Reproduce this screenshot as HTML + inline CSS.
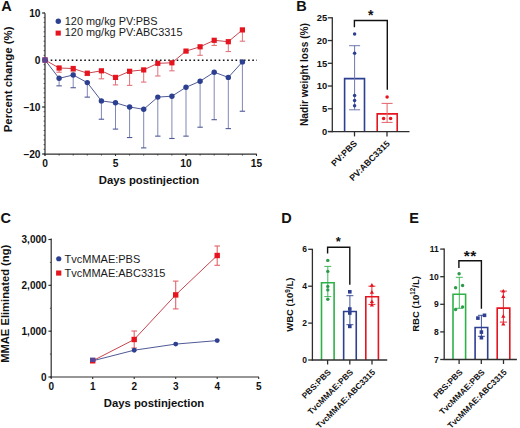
<!DOCTYPE html>
<html><head><meta charset="utf-8"><style>
html,body{margin:0;padding:0;background:#fff;width:520px;height:428px;overflow:hidden}
svg{display:block}
text{font-family:"Liberation Sans", sans-serif}
</style></head><body>
<svg width="520" height="428" viewBox="0 0 520 428">
<rect width="520" height="428" fill="#fff"/>
<text x="1.2" y="11.2" font-size="14.5" font-weight="bold" text-anchor="start" fill="#111">A</text>
<line x1="45" y1="13.3" x2="45" y2="154.6" stroke="#2e2e2e" stroke-width="1.2"/>
<line x1="44.4" y1="154.1" x2="256.8" y2="154.1" stroke="#2e2e2e" stroke-width="1.2"/>
<line x1="42" y1="13.0" x2="45" y2="13.0" stroke="#2e2e2e" stroke-width="1.1"/>
<line x1="42" y1="60.0" x2="45" y2="60.0" stroke="#2e2e2e" stroke-width="1.1"/>
<line x1="42" y1="107.0" x2="45" y2="107.0" stroke="#2e2e2e" stroke-width="1.1"/>
<line x1="42" y1="154.0" x2="45" y2="154.0" stroke="#2e2e2e" stroke-width="1.1"/>
<line x1="43.6" y1="154.0" x2="45" y2="154.0" stroke="#2e2e2e" stroke-width="0.8"/>
<line x1="43.6" y1="149.3" x2="45" y2="149.3" stroke="#2e2e2e" stroke-width="0.8"/>
<line x1="43.6" y1="144.60000000000002" x2="45" y2="144.60000000000002" stroke="#2e2e2e" stroke-width="0.8"/>
<line x1="43.6" y1="139.9" x2="45" y2="139.9" stroke="#2e2e2e" stroke-width="0.8"/>
<line x1="43.6" y1="135.2" x2="45" y2="135.2" stroke="#2e2e2e" stroke-width="0.8"/>
<line x1="43.6" y1="130.5" x2="45" y2="130.5" stroke="#2e2e2e" stroke-width="0.8"/>
<line x1="43.6" y1="125.8" x2="45" y2="125.8" stroke="#2e2e2e" stroke-width="0.8"/>
<line x1="43.6" y1="121.1" x2="45" y2="121.1" stroke="#2e2e2e" stroke-width="0.8"/>
<line x1="43.6" y1="116.4" x2="45" y2="116.4" stroke="#2e2e2e" stroke-width="0.8"/>
<line x1="43.6" y1="111.7" x2="45" y2="111.7" stroke="#2e2e2e" stroke-width="0.8"/>
<line x1="43.6" y1="107.0" x2="45" y2="107.0" stroke="#2e2e2e" stroke-width="0.8"/>
<line x1="43.6" y1="102.30000000000001" x2="45" y2="102.30000000000001" stroke="#2e2e2e" stroke-width="0.8"/>
<line x1="43.6" y1="97.6" x2="45" y2="97.6" stroke="#2e2e2e" stroke-width="0.8"/>
<line x1="43.6" y1="92.9" x2="45" y2="92.9" stroke="#2e2e2e" stroke-width="0.8"/>
<line x1="43.6" y1="88.2" x2="45" y2="88.2" stroke="#2e2e2e" stroke-width="0.8"/>
<line x1="43.6" y1="83.5" x2="45" y2="83.5" stroke="#2e2e2e" stroke-width="0.8"/>
<line x1="43.6" y1="78.8" x2="45" y2="78.8" stroke="#2e2e2e" stroke-width="0.8"/>
<line x1="43.6" y1="74.1" x2="45" y2="74.1" stroke="#2e2e2e" stroke-width="0.8"/>
<line x1="43.6" y1="69.4" x2="45" y2="69.4" stroke="#2e2e2e" stroke-width="0.8"/>
<line x1="43.6" y1="64.7" x2="45" y2="64.7" stroke="#2e2e2e" stroke-width="0.8"/>
<line x1="43.6" y1="60.0" x2="45" y2="60.0" stroke="#2e2e2e" stroke-width="0.8"/>
<line x1="43.6" y1="55.3" x2="45" y2="55.3" stroke="#2e2e2e" stroke-width="0.8"/>
<line x1="43.6" y1="50.6" x2="45" y2="50.6" stroke="#2e2e2e" stroke-width="0.8"/>
<line x1="43.6" y1="45.9" x2="45" y2="45.9" stroke="#2e2e2e" stroke-width="0.8"/>
<line x1="43.6" y1="41.2" x2="45" y2="41.2" stroke="#2e2e2e" stroke-width="0.8"/>
<line x1="43.6" y1="36.5" x2="45" y2="36.5" stroke="#2e2e2e" stroke-width="0.8"/>
<line x1="43.6" y1="31.799999999999997" x2="45" y2="31.799999999999997" stroke="#2e2e2e" stroke-width="0.8"/>
<line x1="43.6" y1="27.1" x2="45" y2="27.1" stroke="#2e2e2e" stroke-width="0.8"/>
<line x1="43.6" y1="22.4" x2="45" y2="22.4" stroke="#2e2e2e" stroke-width="0.8"/>
<line x1="43.6" y1="17.699999999999996" x2="45" y2="17.699999999999996" stroke="#2e2e2e" stroke-width="0.8"/>
<line x1="43.6" y1="13.0" x2="45" y2="13.0" stroke="#2e2e2e" stroke-width="0.8"/>
<line x1="45.0" y1="154" x2="45.0" y2="155.6" stroke="#2e2e2e" stroke-width="0.8"/>
<line x1="59.1" y1="154" x2="59.1" y2="155.6" stroke="#2e2e2e" stroke-width="0.8"/>
<line x1="73.2" y1="154" x2="73.2" y2="155.6" stroke="#2e2e2e" stroke-width="0.8"/>
<line x1="87.3" y1="154" x2="87.3" y2="155.6" stroke="#2e2e2e" stroke-width="0.8"/>
<line x1="101.4" y1="154" x2="101.4" y2="155.6" stroke="#2e2e2e" stroke-width="0.8"/>
<line x1="115.5" y1="154" x2="115.5" y2="155.6" stroke="#2e2e2e" stroke-width="0.8"/>
<line x1="129.6" y1="154" x2="129.6" y2="155.6" stroke="#2e2e2e" stroke-width="0.8"/>
<line x1="143.7" y1="154" x2="143.7" y2="155.6" stroke="#2e2e2e" stroke-width="0.8"/>
<line x1="157.8" y1="154" x2="157.8" y2="155.6" stroke="#2e2e2e" stroke-width="0.8"/>
<line x1="171.89999999999998" y1="154" x2="171.89999999999998" y2="155.6" stroke="#2e2e2e" stroke-width="0.8"/>
<line x1="186.0" y1="154" x2="186.0" y2="155.6" stroke="#2e2e2e" stroke-width="0.8"/>
<line x1="200.1" y1="154" x2="200.1" y2="155.6" stroke="#2e2e2e" stroke-width="0.8"/>
<line x1="214.2" y1="154" x2="214.2" y2="155.6" stroke="#2e2e2e" stroke-width="0.8"/>
<line x1="228.29999999999998" y1="154" x2="228.29999999999998" y2="155.6" stroke="#2e2e2e" stroke-width="0.8"/>
<line x1="242.4" y1="154" x2="242.4" y2="155.6" stroke="#2e2e2e" stroke-width="0.8"/>
<line x1="256.5" y1="154" x2="256.5" y2="155.6" stroke="#2e2e2e" stroke-width="0.8"/>
<line x1="45.0" y1="154" x2="45.0" y2="156" stroke="#2e2e2e" stroke-width="1.1"/>
<line x1="115.5" y1="154" x2="115.5" y2="156" stroke="#2e2e2e" stroke-width="1.1"/>
<line x1="186.0" y1="154" x2="186.0" y2="156" stroke="#2e2e2e" stroke-width="1.1"/>
<line x1="256.5" y1="154" x2="256.5" y2="156" stroke="#2e2e2e" stroke-width="1.1"/>
<text x="40.5" y="17.2" font-size="10.2" font-weight="bold" text-anchor="end" fill="#111">10</text>
<text x="40.5" y="64.2" font-size="10.2" font-weight="bold" text-anchor="end" fill="#111">0</text>
<text x="40.5" y="111.2" font-size="10.2" font-weight="bold" text-anchor="end" fill="#111">–10</text>
<text x="40.5" y="158.2" font-size="10.2" font-weight="bold" text-anchor="end" fill="#111">–20</text>
<text x="45.0" y="166.9" font-size="10.2" font-weight="bold" text-anchor="middle" fill="#111">0</text>
<text x="115.5" y="166.9" font-size="10.2" font-weight="bold" text-anchor="middle" fill="#111">5</text>
<text x="186.0" y="166.9" font-size="10.2" font-weight="bold" text-anchor="middle" fill="#111">10</text>
<text x="256.5" y="166.9" font-size="10.2" font-weight="bold" text-anchor="middle" fill="#111">15</text>
<text x="149" y="184.4" font-size="11.3" font-weight="bold" text-anchor="middle" fill="#111">Days postinjection</text>
<text x="11.6" y="79.4" font-size="11.4" font-weight="bold" text-anchor="middle" fill="#111" transform="rotate(-90 11.6 79.4)">Percent change (%)</text>
<line x1="46.5" y1="60.3" x2="257" y2="60.3" stroke="#111" stroke-width="1.5" stroke-dasharray="1.6 2.6"/>
<circle cx="58.3" cy="21.3" r="2.7" fill="#2d3f91"/>
<text x="64.8" y="24.6" font-size="10.9" font-weight="normal" text-anchor="start" fill="#1a1a1a">120 mg/kg PV:PBS</text>
<rect x="55.6" y="30.6" width="5.2" height="5" fill="#e5141f"/>
<text x="64.8" y="36.4" font-size="10.9" font-weight="normal" text-anchor="start" fill="#1a1a1a">120 mg/kg PV:ABC3315</text>
<line x1="59.1" y1="78.33" x2="59.1" y2="85.85" stroke="#8088b4" stroke-width="1.0"/>
<line x1="56.4" y1="85.85" x2="61.800000000000004" y2="85.85" stroke="#4f5a96" stroke-width="1.1"/>
<line x1="59.1" y1="67.99" x2="59.1" y2="72.22" stroke="#e0757c" stroke-width="1.0"/>
<line x1="56.4" y1="72.22" x2="61.800000000000004" y2="72.22" stroke="#e0757c" stroke-width="1.1"/>
<line x1="73.2" y1="75.04" x2="73.2" y2="87.73" stroke="#8088b4" stroke-width="1.0"/>
<line x1="70.5" y1="87.73" x2="75.9" y2="87.73" stroke="#4f5a96" stroke-width="1.1"/>
<line x1="73.2" y1="68.46000000000001" x2="73.2" y2="71.75" stroke="#e0757c" stroke-width="1.0"/>
<line x1="70.5" y1="71.75" x2="75.9" y2="71.75" stroke="#e0757c" stroke-width="1.1"/>
<line x1="87.3" y1="82.56" x2="87.3" y2="97.13" stroke="#8088b4" stroke-width="1.0"/>
<line x1="84.6" y1="97.13" x2="90.0" y2="97.13" stroke="#4f5a96" stroke-width="1.1"/>
<line x1="87.3" y1="73.16" x2="87.3" y2="75.51" stroke="#e0757c" stroke-width="1.0"/>
<line x1="84.6" y1="75.51" x2="90.0" y2="75.51" stroke="#e0757c" stroke-width="1.1"/>
<line x1="101.4" y1="100.89" x2="101.4" y2="119.22" stroke="#8088b4" stroke-width="1.0"/>
<line x1="98.7" y1="119.22" x2="104.10000000000001" y2="119.22" stroke="#4f5a96" stroke-width="1.1"/>
<line x1="101.4" y1="70.81" x2="101.4" y2="78.8" stroke="#e0757c" stroke-width="1.0"/>
<line x1="98.7" y1="78.8" x2="104.10000000000001" y2="78.8" stroke="#e0757c" stroke-width="1.1"/>
<line x1="115.5" y1="102.77000000000001" x2="115.5" y2="129.09" stroke="#8088b4" stroke-width="1.0"/>
<line x1="112.8" y1="129.09" x2="118.2" y2="129.09" stroke="#4f5a96" stroke-width="1.1"/>
<line x1="115.5" y1="77.39" x2="115.5" y2="84.91" stroke="#e0757c" stroke-width="1.0"/>
<line x1="112.8" y1="84.91" x2="118.2" y2="84.91" stroke="#e0757c" stroke-width="1.1"/>
<line x1="129.6" y1="107.0" x2="129.6" y2="137.55" stroke="#8088b4" stroke-width="1.0"/>
<line x1="126.89999999999999" y1="137.55" x2="132.29999999999998" y2="137.55" stroke="#4f5a96" stroke-width="1.1"/>
<line x1="129.6" y1="71.28" x2="129.6" y2="85.38" stroke="#e0757c" stroke-width="1.0"/>
<line x1="126.89999999999999" y1="85.38" x2="132.29999999999998" y2="85.38" stroke="#e0757c" stroke-width="1.1"/>
<line x1="143.7" y1="109.35" x2="143.7" y2="147.89" stroke="#8088b4" stroke-width="1.0"/>
<line x1="141.0" y1="147.89" x2="146.39999999999998" y2="147.89" stroke="#4f5a96" stroke-width="1.1"/>
<line x1="143.7" y1="69.87" x2="143.7" y2="82.09" stroke="#e0757c" stroke-width="1.0"/>
<line x1="141.0" y1="82.09" x2="146.39999999999998" y2="82.09" stroke="#e0757c" stroke-width="1.1"/>
<line x1="157.8" y1="97.13" x2="157.8" y2="136.14" stroke="#8088b4" stroke-width="1.0"/>
<line x1="155.10000000000002" y1="136.14" x2="160.5" y2="136.14" stroke="#4f5a96" stroke-width="1.1"/>
<line x1="157.8" y1="63.29" x2="157.8" y2="75.98" stroke="#e0757c" stroke-width="1.0"/>
<line x1="155.10000000000002" y1="75.98" x2="160.5" y2="75.98" stroke="#e0757c" stroke-width="1.1"/>
<line x1="171.89999999999998" y1="96.19" x2="171.89999999999998" y2="138.49" stroke="#8088b4" stroke-width="1.0"/>
<line x1="169.2" y1="138.49" x2="174.59999999999997" y2="138.49" stroke="#4f5a96" stroke-width="1.1"/>
<line x1="171.89999999999998" y1="62.82" x2="171.89999999999998" y2="70.81" stroke="#e0757c" stroke-width="1.0"/>
<line x1="169.2" y1="70.81" x2="174.59999999999997" y2="70.81" stroke="#e0757c" stroke-width="1.1"/>
<line x1="186.0" y1="87.26" x2="186.0" y2="136.14" stroke="#8088b4" stroke-width="1.0"/>
<line x1="183.3" y1="136.14" x2="188.7" y2="136.14" stroke="#4f5a96" stroke-width="1.1"/>
<line x1="186.0" y1="51.07" x2="186.0" y2="52.01" stroke="#e0757c" stroke-width="1.0"/>
<line x1="183.3" y1="52.01" x2="188.7" y2="52.01" stroke="#e0757c" stroke-width="1.1"/>
<line x1="200.1" y1="81.15" x2="200.1" y2="127.21000000000001" stroke="#8088b4" stroke-width="1.0"/>
<line x1="197.4" y1="127.21000000000001" x2="202.79999999999998" y2="127.21000000000001" stroke="#4f5a96" stroke-width="1.1"/>
<line x1="200.1" y1="46.84" x2="200.1" y2="55.3" stroke="#e0757c" stroke-width="1.0"/>
<line x1="197.4" y1="55.3" x2="202.79999999999998" y2="55.3" stroke="#e0757c" stroke-width="1.1"/>
<line x1="214.2" y1="72.22" x2="214.2" y2="119.69" stroke="#8088b4" stroke-width="1.0"/>
<line x1="211.5" y1="119.69" x2="216.89999999999998" y2="119.69" stroke="#4f5a96" stroke-width="1.1"/>
<line x1="214.2" y1="40.26" x2="214.2" y2="45.43" stroke="#e0757c" stroke-width="1.0"/>
<line x1="211.5" y1="45.43" x2="216.89999999999998" y2="45.43" stroke="#e0757c" stroke-width="1.1"/>
<line x1="228.29999999999998" y1="77.39" x2="228.29999999999998" y2="128.62" stroke="#8088b4" stroke-width="1.0"/>
<line x1="225.6" y1="128.62" x2="230.99999999999997" y2="128.62" stroke="#4f5a96" stroke-width="1.1"/>
<line x1="228.29999999999998" y1="41.67" x2="228.29999999999998" y2="51.54" stroke="#e0757c" stroke-width="1.0"/>
<line x1="225.6" y1="51.54" x2="230.99999999999997" y2="51.54" stroke="#e0757c" stroke-width="1.1"/>
<line x1="242.4" y1="61.88" x2="242.4" y2="111.23" stroke="#8088b4" stroke-width="1.0"/>
<line x1="239.70000000000002" y1="111.23" x2="245.1" y2="111.23" stroke="#4f5a96" stroke-width="1.1"/>
<line x1="242.4" y1="29.919999999999998" x2="242.4" y2="41.2" stroke="#e0757c" stroke-width="1.0"/>
<line x1="239.70000000000002" y1="41.2" x2="245.1" y2="41.2" stroke="#e0757c" stroke-width="1.1"/>
<polyline points="45.0,60.0 59.1,78.3 73.2,75.0 87.3,82.6 101.4,100.9 115.5,102.8 129.6,107.0 143.7,109.3 157.8,97.1 171.9,96.2 186.0,87.3 200.1,81.2 214.2,72.2 228.3,77.4 242.4,61.9" fill="none" stroke="#4f5a96" stroke-width="1.0"/>
<polyline points="45.0,60.0 59.1,68.0 73.2,68.5 87.3,73.2 101.4,70.8 115.5,77.4 129.6,71.3 143.7,69.9 157.8,63.3 171.9,62.8 186.0,51.1 200.1,46.8 214.2,40.3 228.3,41.7 242.4,29.9" fill="none" stroke="#c8454f" stroke-width="1.0"/>
<rect x="42.4" y="57.4" width="5.2" height="5.2" fill="#e5141f"/>
<rect x="56.5" y="65.4" width="5.2" height="5.2" fill="#e5141f"/>
<rect x="70.6" y="65.9" width="5.2" height="5.2" fill="#e5141f"/>
<rect x="84.7" y="70.6" width="5.2" height="5.2" fill="#e5141f"/>
<rect x="98.8" y="68.2" width="5.2" height="5.2" fill="#e5141f"/>
<rect x="112.9" y="74.8" width="5.2" height="5.2" fill="#e5141f"/>
<rect x="127.0" y="68.7" width="5.2" height="5.2" fill="#e5141f"/>
<rect x="141.1" y="67.3" width="5.2" height="5.2" fill="#e5141f"/>
<rect x="155.2" y="60.7" width="5.2" height="5.2" fill="#e5141f"/>
<rect x="169.3" y="60.2" width="5.2" height="5.2" fill="#e5141f"/>
<rect x="183.4" y="48.5" width="5.2" height="5.2" fill="#e5141f"/>
<rect x="197.5" y="44.2" width="5.2" height="5.2" fill="#e5141f"/>
<rect x="211.6" y="37.7" width="5.2" height="5.2" fill="#e5141f"/>
<rect x="225.7" y="39.1" width="5.2" height="5.2" fill="#e5141f"/>
<rect x="239.8" y="27.3" width="5.2" height="5.2" fill="#e5141f"/>
<rect x="42.4" y="57.4" width="5.2" height="5.2" fill="#54479a"/>
<circle cx="59.1" cy="78.3" r="2.7" fill="#2d3f91"/>
<circle cx="73.2" cy="75.0" r="2.7" fill="#2d3f91"/>
<circle cx="87.3" cy="82.6" r="2.7" fill="#2d3f91"/>
<circle cx="101.4" cy="100.9" r="2.7" fill="#2d3f91"/>
<circle cx="115.5" cy="102.8" r="2.7" fill="#2d3f91"/>
<circle cx="129.6" cy="107.0" r="2.7" fill="#2d3f91"/>
<circle cx="143.7" cy="109.3" r="2.7" fill="#2d3f91"/>
<circle cx="157.8" cy="97.1" r="2.7" fill="#2d3f91"/>
<circle cx="171.9" cy="96.2" r="2.7" fill="#2d3f91"/>
<circle cx="186.0" cy="87.3" r="2.7" fill="#2d3f91"/>
<circle cx="200.1" cy="81.2" r="2.7" fill="#2d3f91"/>
<circle cx="214.2" cy="72.2" r="2.7" fill="#2d3f91"/>
<circle cx="228.3" cy="77.4" r="2.7" fill="#2d3f91"/>
<circle cx="242.4" cy="61.9" r="2.7" fill="#2d3f91"/>
<text x="296.2" y="11.2" font-size="14.5" font-weight="bold" text-anchor="start" fill="#111">B</text>
<line x1="332.3" y1="17.3" x2="332.3" y2="132.2" stroke="#2e2e2e" stroke-width="1.3"/>
<line x1="327.8" y1="131.5" x2="332.3" y2="131.5" stroke="#2e2e2e" stroke-width="1.3"/>
<text x="327.2" y="134.9" font-size="9.4" font-weight="bold" text-anchor="end" fill="#111">0</text>
<line x1="327.8" y1="108.76" x2="332.3" y2="108.76" stroke="#2e2e2e" stroke-width="1.3"/>
<text x="327.2" y="112.16000000000001" font-size="9.4" font-weight="bold" text-anchor="end" fill="#111">5</text>
<line x1="327.8" y1="86.02000000000001" x2="332.3" y2="86.02000000000001" stroke="#2e2e2e" stroke-width="1.3"/>
<text x="327.2" y="89.42000000000002" font-size="9.4" font-weight="bold" text-anchor="end" fill="#111">10</text>
<line x1="327.8" y1="63.28" x2="332.3" y2="63.28" stroke="#2e2e2e" stroke-width="1.3"/>
<text x="327.2" y="66.68" font-size="9.4" font-weight="bold" text-anchor="end" fill="#111">15</text>
<line x1="327.8" y1="40.540000000000006" x2="332.3" y2="40.540000000000006" stroke="#2e2e2e" stroke-width="1.3"/>
<text x="327.2" y="43.940000000000005" font-size="9.4" font-weight="bold" text-anchor="end" fill="#111">20</text>
<line x1="327.8" y1="17.799999999999997" x2="332.3" y2="17.799999999999997" stroke="#2e2e2e" stroke-width="1.3"/>
<text x="327.2" y="21.199999999999996" font-size="9.4" font-weight="bold" text-anchor="end" fill="#111">25</text>
<line x1="354.5" y1="131.6" x2="354.5" y2="136.4" stroke="#2e2e2e" stroke-width="1.3"/>
<line x1="387" y1="131.6" x2="387" y2="136.4" stroke="#2e2e2e" stroke-width="1.3"/>
<text x="304.8" y="74.5" font-size="10.2" font-weight="bold" text-anchor="middle" fill="#111" transform="rotate(-90 304.8 74.5)" dominant-baseline="central">Nadir weight loss (%)</text>
<path d="M344.6,131.6 V78.6 H364.5 V131.6" fill="none" stroke="#2d3f91" stroke-width="1.6"/>
<path d="M377.2,131.6 V113.9 H397.2 V131.6" fill="none" stroke="#e5141f" stroke-width="1.6"/>
<line x1="328.3" y1="131.6" x2="409.5" y2="131.6" stroke="#2e2e2e" stroke-width="1.3"/>
<line x1="354.6" y1="45.7" x2="354.6" y2="109.8" stroke="#6f78b0" stroke-width="1.0"/>
<line x1="349.1" y1="45.7" x2="360.1" y2="45.7" stroke="#6f78b0" stroke-width="1.0"/>
<line x1="349.1" y1="109.8" x2="360.1" y2="109.8" stroke="#6f78b0" stroke-width="1.0"/>
<line x1="387.1" y1="103.4" x2="387.1" y2="122.4" stroke="#e2636a" stroke-width="1.0"/>
<line x1="381.6" y1="103.4" x2="392.6" y2="103.4" stroke="#e2636a" stroke-width="1.0"/>
<line x1="381.6" y1="122.4" x2="392.6" y2="122.4" stroke="#e2636a" stroke-width="1.0"/>
<circle cx="354.6" cy="33.9" r="1.75" fill="#2d3f91"/>
<circle cx="354.6" cy="53.3" r="1.75" fill="#2d3f91"/>
<circle cx="354.6" cy="95.5" r="1.75" fill="#2d3f91"/>
<circle cx="354.6" cy="100.4" r="1.75" fill="#2d3f91"/>
<circle cx="354.6" cy="105.7" r="1.75" fill="#2d3f91"/>
<circle cx="387.1" cy="96.9" r="1.75" fill="#e5141f"/>
<circle cx="383.6" cy="118.6" r="1.75" fill="#e5141f"/>
<circle cx="390.6" cy="118.6" r="1.75" fill="#e5141f"/>
<path d="M354.4,27.3 V20.5 H387.3 V89.8" fill="none" stroke="#111" stroke-width="1.4"/>
<text x="370.7" y="19.6" font-size="14" font-weight="bold" text-anchor="middle" fill="#111">*</text>
<text x="357.6" y="144.2" font-size="8.8" font-weight="bold" text-anchor="end" fill="#111" transform="rotate(-45 357.6 144.2)">PV:PBS</text>
<text x="390.4" y="144.2" font-size="8.8" font-weight="bold" text-anchor="end" fill="#111" transform="rotate(-45 390.4 144.2)">PV:ABC3315</text>
<text x="0.5" y="222.7" font-size="14.5" font-weight="bold" text-anchor="start" fill="#111">C</text>
<line x1="51.2" y1="238.6" x2="51.2" y2="377.6" stroke="#2e2e2e" stroke-width="1.2"/>
<line x1="50.6" y1="377" x2="259" y2="377" stroke="#2e2e2e" stroke-width="1.2"/>
<line x1="48.4" y1="377.0" x2="51.2" y2="377.0" stroke="#2e2e2e" stroke-width="1.1"/>
<text x="46.6" y="381.0" font-size="10" font-weight="bold" text-anchor="end" fill="#111">0</text>
<line x1="48.4" y1="331.17" x2="51.2" y2="331.17" stroke="#2e2e2e" stroke-width="1.1"/>
<text x="46.6" y="334.77000000000004" font-size="10" font-weight="bold" text-anchor="end" fill="#111">1,000</text>
<line x1="48.4" y1="285.34000000000003" x2="51.2" y2="285.34000000000003" stroke="#2e2e2e" stroke-width="1.1"/>
<text x="46.6" y="288.74" font-size="10" font-weight="bold" text-anchor="end" fill="#111">2,000</text>
<line x1="48.4" y1="239.51000000000002" x2="51.2" y2="239.51000000000002" stroke="#2e2e2e" stroke-width="1.1"/>
<text x="46.6" y="242.61" font-size="10" font-weight="bold" text-anchor="end" fill="#111">3,000</text>
<line x1="49.9" y1="377.0" x2="51.2" y2="377.0" stroke="#2e2e2e" stroke-width="0.8"/>
<line x1="49.9" y1="354.085" x2="51.2" y2="354.085" stroke="#2e2e2e" stroke-width="0.8"/>
<line x1="49.9" y1="331.17" x2="51.2" y2="331.17" stroke="#2e2e2e" stroke-width="0.8"/>
<line x1="49.9" y1="308.255" x2="51.2" y2="308.255" stroke="#2e2e2e" stroke-width="0.8"/>
<line x1="49.9" y1="285.34000000000003" x2="51.2" y2="285.34000000000003" stroke="#2e2e2e" stroke-width="0.8"/>
<line x1="49.9" y1="262.425" x2="51.2" y2="262.425" stroke="#2e2e2e" stroke-width="0.8"/>
<line x1="49.9" y1="239.51000000000002" x2="51.2" y2="239.51000000000002" stroke="#2e2e2e" stroke-width="0.8"/>
<line x1="51.2" y1="377" x2="51.2" y2="379" stroke="#2e2e2e" stroke-width="1.1"/>
<text x="51.2" y="390.1" font-size="10" font-weight="bold" text-anchor="middle" fill="#111">0</text>
<line x1="92.7" y1="377" x2="92.7" y2="379" stroke="#2e2e2e" stroke-width="1.1"/>
<text x="92.7" y="390.1" font-size="10" font-weight="bold" text-anchor="middle" fill="#111">1</text>
<line x1="134.2" y1="377" x2="134.2" y2="379" stroke="#2e2e2e" stroke-width="1.1"/>
<text x="134.2" y="390.1" font-size="10" font-weight="bold" text-anchor="middle" fill="#111">2</text>
<line x1="175.7" y1="377" x2="175.7" y2="379" stroke="#2e2e2e" stroke-width="1.1"/>
<text x="175.7" y="390.1" font-size="10" font-weight="bold" text-anchor="middle" fill="#111">3</text>
<line x1="217.2" y1="377" x2="217.2" y2="379" stroke="#2e2e2e" stroke-width="1.1"/>
<text x="217.2" y="390.1" font-size="10" font-weight="bold" text-anchor="middle" fill="#111">4</text>
<line x1="258.7" y1="377" x2="258.7" y2="379" stroke="#2e2e2e" stroke-width="1.1"/>
<text x="258.7" y="390.1" font-size="10" font-weight="bold" text-anchor="middle" fill="#111">5</text>
<text x="154" y="407" font-size="11.3" font-weight="bold" text-anchor="middle" fill="#111">Days postinjection</text>
<text x="9.2" y="303.8" font-size="11.2" font-weight="bold" text-anchor="middle" fill="#111" transform="rotate(-90 9.2 303.8)">MMAE Eliminated (ng)</text>
<circle cx="58.75" cy="258.75" r="2.6" fill="#2d3f91"/>
<text x="64.5" y="262.6" font-size="11" font-weight="normal" text-anchor="start" fill="#1a1a1a">TvcMMAE:PBS</text>
<rect x="56.1" y="270.5" width="5.2" height="5.1" fill="#e5141f"/>
<text x="64.5" y="277.3" font-size="11" font-weight="normal" text-anchor="start" fill="#1a1a1a">TvcMMAE:ABC3315</text>
<line x1="134.2" y1="331" x2="134.2" y2="348" stroke="#e2636a" stroke-width="1.1"/>
<line x1="131.39999999999998" y1="331" x2="137.0" y2="331" stroke="#e2636a" stroke-width="1.1"/>
<line x1="131.39999999999998" y1="348" x2="137.0" y2="348" stroke="#e2636a" stroke-width="1.1"/>
<line x1="175.7" y1="281.1" x2="175.7" y2="308.9" stroke="#e2636a" stroke-width="1.1"/>
<line x1="172.89999999999998" y1="281.1" x2="178.5" y2="281.1" stroke="#e2636a" stroke-width="1.1"/>
<line x1="172.89999999999998" y1="308.9" x2="178.5" y2="308.9" stroke="#e2636a" stroke-width="1.1"/>
<line x1="217.2" y1="246" x2="217.2" y2="265.3" stroke="#e2636a" stroke-width="1.1"/>
<line x1="214.39999999999998" y1="246" x2="220.0" y2="246" stroke="#e2636a" stroke-width="1.1"/>
<line x1="214.39999999999998" y1="265.3" x2="220.0" y2="265.3" stroke="#e2636a" stroke-width="1.1"/>
<polyline points="92.7,360.8 134.2,339.5 175.7,294.9 217.2,255.5" fill="none" stroke="#c8454f" stroke-width="1.0"/>
<polyline points="92.7,360.8 134.2,350.2 175.7,344.1 217.2,340.6" fill="none" stroke="#4f5a96" stroke-width="1.0"/>
<rect x="90.0" y="358.1" width="5.4" height="5.4" fill="#e5141f"/>
<rect x="131.5" y="336.8" width="5.4" height="5.4" fill="#e5141f"/>
<rect x="173.0" y="292.2" width="5.4" height="5.4" fill="#e5141f"/>
<rect x="214.5" y="252.8" width="5.4" height="5.4" fill="#e5141f"/>
<rect x="90.0" y="357.6" width="5.4" height="4.4" fill="#54479a"/>
<circle cx="134.2" cy="350.2" r="2.45" fill="#2d3f91"/>
<circle cx="175.7" cy="344.1" r="2.45" fill="#2d3f91"/>
<circle cx="217.2" cy="340.6" r="2.45" fill="#2d3f91"/>
<text x="281.3" y="222.6" font-size="14.5" font-weight="bold" text-anchor="start" fill="#111">D</text>
<line x1="312.4" y1="248.8" x2="312.4" y2="360.6" stroke="#2e2e2e" stroke-width="1.3"/>
<line x1="308.2" y1="360.0" x2="312.4" y2="360.0" stroke="#2e2e2e" stroke-width="1.3"/>
<text x="307" y="363.1" font-size="8.5" font-weight="bold" text-anchor="end" fill="#111">0</text>
<line x1="308.2" y1="323.1" x2="312.4" y2="323.1" stroke="#2e2e2e" stroke-width="1.3"/>
<text x="307" y="326.20000000000005" font-size="8.5" font-weight="bold" text-anchor="end" fill="#111">2</text>
<line x1="308.2" y1="286.2" x2="312.4" y2="286.2" stroke="#2e2e2e" stroke-width="1.3"/>
<text x="307" y="289.3" font-size="8.5" font-weight="bold" text-anchor="end" fill="#111">4</text>
<line x1="308.2" y1="249.3" x2="312.4" y2="249.3" stroke="#2e2e2e" stroke-width="1.3"/>
<text x="307" y="252.4" font-size="8.5" font-weight="bold" text-anchor="end" fill="#111">6</text>
<line x1="327.6" y1="360" x2="327.6" y2="364.5" stroke="#2e2e2e" stroke-width="1.3"/>
<line x1="349.8" y1="360" x2="349.8" y2="364.5" stroke="#2e2e2e" stroke-width="1.3"/>
<line x1="372" y1="360" x2="372" y2="364.5" stroke="#2e2e2e" stroke-width="1.3"/>
<text x="293.3" y="304.6" font-size="9.5" font-weight="bold" text-anchor="middle" fill="#111" transform="rotate(-90 293.3 304.6)" font-weight="bold">WBC (10<tspan font-size="6.4" dy="-3.6">9</tspan><tspan dy="3.6">/L)</tspan></text>
<path d="M321.50,360 V282.7 H334.10 V360" fill="none" stroke="#2fb14a" stroke-width="1.6"/>
<path d="M343.65,360 V311.5 H356.25 V360" fill="none" stroke="#2d3f91" stroke-width="1.6"/>
<path d="M365.80,360 V296.8 H378.40 V360" fill="none" stroke="#e5141f" stroke-width="1.6"/>
<line x1="311.8" y1="360" x2="387.2" y2="360" stroke="#2e2e2e" stroke-width="1.3"/>
<line x1="327.8" y1="266.4" x2="327.8" y2="296.6" stroke="#2fb14a" stroke-width="0.9"/>
<line x1="324.3" y1="266.4" x2="331.3" y2="266.4" stroke="#2fb14a" stroke-width="0.9"/>
<line x1="324.3" y1="296.6" x2="331.3" y2="296.6" stroke="#2fb14a" stroke-width="0.9"/>
<line x1="349.9" y1="295.7" x2="349.9" y2="324.7" stroke="#2d3f91" stroke-width="0.9"/>
<line x1="346.4" y1="295.7" x2="353.4" y2="295.7" stroke="#2d3f91" stroke-width="0.9"/>
<line x1="346.4" y1="324.7" x2="353.4" y2="324.7" stroke="#2d3f91" stroke-width="0.9"/>
<line x1="371.9" y1="286.2" x2="371.9" y2="304.4" stroke="#e5141f" stroke-width="0.9"/>
<line x1="368.4" y1="286.2" x2="375.4" y2="286.2" stroke="#e5141f" stroke-width="0.9"/>
<line x1="368.4" y1="304.4" x2="375.4" y2="304.4" stroke="#e5141f" stroke-width="0.9"/>
<circle cx="327.8" cy="260.4" r="1.7" fill="#2e9a4c"/>
<circle cx="327.8" cy="271.4" r="1.7" fill="#2e9a4c"/>
<circle cx="327.8" cy="286.4" r="1.7" fill="#2e9a4c"/>
<circle cx="327.8" cy="289.9" r="1.7" fill="#2e9a4c"/>
<circle cx="327.8" cy="299.3" r="1.7" fill="#2e9a4c"/>
<rect x="348.0" y="290.0" width="3.6" height="3.6" fill="#2d3f91"/>
<rect x="348.0" y="307.2" width="3.6" height="3.6" fill="#2d3f91"/>
<rect x="348.0" y="311.2" width="3.6" height="3.6" fill="#2d3f91"/>
<rect x="348.0" y="324.59999999999997" width="3.6" height="3.6" fill="#2d3f91"/>
<path d="M371.9,283.0 L374,286.7 L369.8,286.7 Z" fill="#e5141f"/>
<path d="M371.9,290.1 L374,293.8 L369.8,293.8 Z" fill="#e5141f"/>
<path d="M371.9,299.4 L374,303.1 L369.8,303.1 Z" fill="#e5141f"/>
<path d="M371.9,302.8 L374,306.5 L369.8,306.5 Z" fill="#e5141f"/>
<path d="M327.6,253.5 V247.3 H349.8 V284.8" fill="none" stroke="#111" stroke-width="1.4"/>
<text x="338.4" y="245.6" font-size="13" font-weight="bold" text-anchor="middle" fill="#111">*</text>
<text x="331.5" y="372.8" font-size="8.4" font-weight="bold" text-anchor="end" fill="#111" transform="rotate(-45 331.5 372.8)">PBS:PBS</text>
<text x="353.7" y="372.8" font-size="8.4" font-weight="bold" text-anchor="end" fill="#111" transform="rotate(-45 353.7 372.8)">TvcMMAE:PBS</text>
<text x="375.9" y="372.8" font-size="8.4" font-weight="bold" text-anchor="end" fill="#111" transform="rotate(-45 375.9 372.8)">TvcMMAE:ABC3315</text>
<text x="409.3" y="222.6" font-size="14.5" font-weight="bold" text-anchor="start" fill="#111">E</text>
<line x1="444.2" y1="248.6" x2="444.2" y2="360.1" stroke="#2e2e2e" stroke-width="1.3"/>
<line x1="440.2" y1="359.5" x2="444.2" y2="359.5" stroke="#2e2e2e" stroke-width="1.3"/>
<text x="438.8" y="362.6" font-size="8.5" font-weight="bold" text-anchor="end" fill="#111">7</text>
<line x1="440.2" y1="331.9" x2="444.2" y2="331.9" stroke="#2e2e2e" stroke-width="1.3"/>
<text x="438.8" y="335.0" font-size="8.5" font-weight="bold" text-anchor="end" fill="#111">8</text>
<line x1="440.2" y1="304.3" x2="444.2" y2="304.3" stroke="#2e2e2e" stroke-width="1.3"/>
<text x="438.8" y="307.40000000000003" font-size="8.5" font-weight="bold" text-anchor="end" fill="#111">9</text>
<line x1="440.2" y1="276.7" x2="444.2" y2="276.7" stroke="#2e2e2e" stroke-width="1.3"/>
<text x="438.8" y="279.8" font-size="8.5" font-weight="bold" text-anchor="end" fill="#111">10</text>
<line x1="440.2" y1="249.1" x2="444.2" y2="249.1" stroke="#2e2e2e" stroke-width="1.3"/>
<text x="438.8" y="252.2" font-size="8.5" font-weight="bold" text-anchor="end" fill="#111">11</text>
<line x1="459.1" y1="359.5" x2="459.1" y2="364" stroke="#2e2e2e" stroke-width="1.3"/>
<line x1="481.3" y1="359.5" x2="481.3" y2="364" stroke="#2e2e2e" stroke-width="1.3"/>
<line x1="503.5" y1="359.5" x2="503.5" y2="364" stroke="#2e2e2e" stroke-width="1.3"/>
<text x="419.0" y="303.9" font-size="9.5" font-weight="bold" text-anchor="middle" fill="#111" transform="rotate(-90 419.0 303.9)">RBC (10<tspan font-size="6.4" dy="-3.6">12</tspan><tspan dy="3.6">/L)</tspan></text>
<path d="M453.00,359.5 V294.3 H465.60 V359.5" fill="none" stroke="#2fb14a" stroke-width="1.6"/>
<path d="M475.10,359.5 V327.5 H487.70 V359.5" fill="none" stroke="#2d3f91" stroke-width="1.6"/>
<path d="M497.20,359.5 V308.1 H509.80 V359.5" fill="none" stroke="#e5141f" stroke-width="1.6"/>
<line x1="443.6" y1="359.5" x2="516.9" y2="359.5" stroke="#2e2e2e" stroke-width="1.3"/>
<line x1="459.3" y1="277.3" x2="459.3" y2="308.3" stroke="#2fb14a" stroke-width="0.9"/>
<line x1="455.8" y1="277.3" x2="462.8" y2="277.3" stroke="#2fb14a" stroke-width="0.9"/>
<line x1="455.8" y1="308.3" x2="462.8" y2="308.3" stroke="#2fb14a" stroke-width="0.9"/>
<line x1="481.4" y1="315.3" x2="481.4" y2="336.3" stroke="#2d3f91" stroke-width="0.9"/>
<line x1="477.9" y1="315.3" x2="484.9" y2="315.3" stroke="#2d3f91" stroke-width="0.9"/>
<line x1="477.9" y1="336.3" x2="484.9" y2="336.3" stroke="#2d3f91" stroke-width="0.9"/>
<line x1="503.4" y1="291.1" x2="503.4" y2="322.1" stroke="#e5141f" stroke-width="0.9"/>
<line x1="499.9" y1="291.1" x2="506.9" y2="291.1" stroke="#e5141f" stroke-width="0.9"/>
<line x1="499.9" y1="322.1" x2="506.9" y2="322.1" stroke="#e5141f" stroke-width="0.9"/>
<circle cx="459.1" cy="273.8" r="1.7" fill="#2e9a4c"/>
<circle cx="455.6" cy="287.8" r="1.7" fill="#2e9a4c"/>
<circle cx="462.6" cy="285.5" r="1.7" fill="#2e9a4c"/>
<circle cx="455.6" cy="309.5" r="1.7" fill="#2e9a4c"/>
<circle cx="462.6" cy="306.9" r="1.7" fill="#2e9a4c"/>
<rect x="476.1" y="316.3" width="3.6" height="3.6" fill="#2d3f91"/>
<rect x="482.7" y="313.5" width="3.6" height="3.6" fill="#2d3f91"/>
<rect x="479.6" y="330.3" width="3.6" height="3.6" fill="#2d3f91"/>
<rect x="479.6" y="335.9" width="3.6" height="3.6" fill="#2d3f91"/>
<path d="M503.3,288.9 L505.4,292.6 L501.2,292.6 Z" fill="#e5141f"/>
<path d="M503.3,294.2 L505.4,297.9 L501.2,297.9 Z" fill="#e5141f"/>
<path d="M503.3,314.1 L505.4,317.8 L501.2,317.8 Z" fill="#e5141f"/>
<path d="M503.3,321.7 L505.4,325.4 L501.2,325.4 Z" fill="#e5141f"/>
<path d="M458.9,268 V260.8 H481.4 V308.7" fill="none" stroke="#111" stroke-width="1.4"/>
<text x="470.2" y="260.6" font-size="15.5" font-weight="bold" text-anchor="middle" fill="#111" letter-spacing="0.4">**</text>
<text x="463.1" y="372.8" font-size="8.4" font-weight="bold" text-anchor="end" fill="#111" transform="rotate(-45 463.1 372.8)">PBS:PBS</text>
<text x="485.3" y="372.8" font-size="8.4" font-weight="bold" text-anchor="end" fill="#111" transform="rotate(-45 485.3 372.8)">TvcMMAE:PBS</text>
<text x="507.3" y="372.8" font-size="8.4" font-weight="bold" text-anchor="end" fill="#111" transform="rotate(-45 507.3 372.8)">TvcMMAE:ABC3315</text>
</svg>
</body></html>
